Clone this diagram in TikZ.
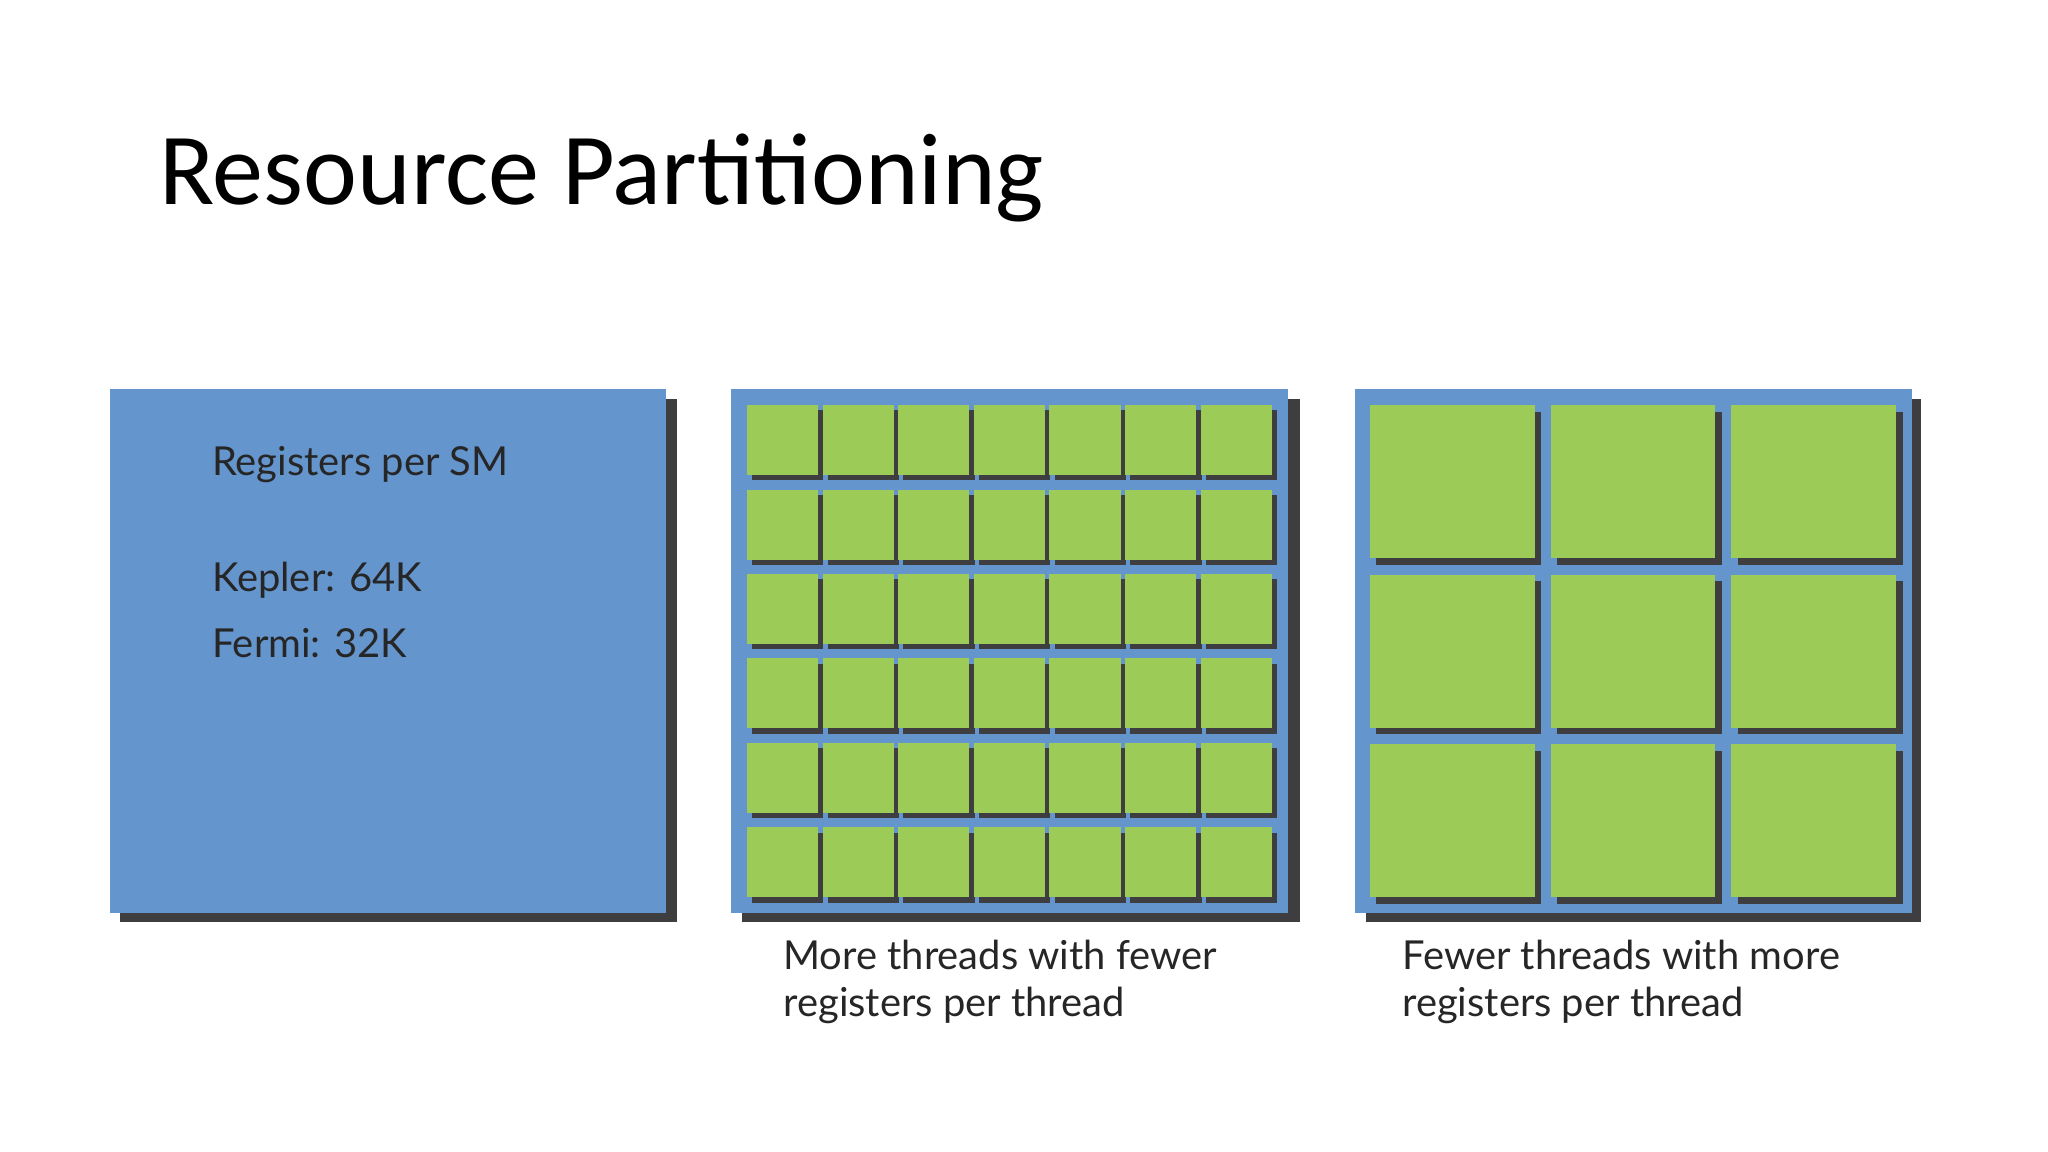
\documentclass[tikz,border=0pt]{standalone}
\usepackage{fontspec}
\setmainfont{Carlito}
\newfontfamily\labelfont{Lato}
\usetikzlibrary{positioning}
\definecolor{smblue}{HTML}{6495CD}
\definecolor{cellgreen}{HTML}{9CCB57}
\definecolor{shade}{HTML}{3E3E40}
\tikzset{smbox/.style={fill=smblue, draw=none},
         smshade/.style={fill=shade, draw=none},
         cell/.style={fill=cellgreen, draw=none},
         caption/.style={font=\labelfont\fontsize{8.6pt}{10pt}\selectfont, align=left, anchor=north west, inner sep=0pt, text=black!85}}

\begin{document}
\begin{tikzpicture}[x=0.01cm, y=-0.01cm]
  \useasboundingbox[fill=white] (0,0) rectangle (1552,873);
  \node[anchor=base west, inner sep=0pt, font=\fontsize{22pt}{26pt}\selectfont\addfontfeatures{FakeBold=0}] (title) at (120,155) {Resource Partitioning};

  % register file
  \fill[smshade] (91,302) rectangle (513,699);
  \fill[smbox] (83,295) rectangle (505,692);
  \node[caption, anchor=west] (regs) at (160,352) {Registers per SM};
  \node[caption, anchor=west] (kepler) at (160,440) {Kepler: 64K};
  \node[caption, anchor=west] (fermi) at (160,487) {Fermi: 32K};

  % many small threads
  \fill[smshade] (562,302) rectangle (985,699);
  \fill[smbox] (554,295) rectangle (976,692);
  \foreach \c in {0,...,6}
    \foreach \r in {0,...,5} {
      \fill[smshade] (566+57.3*\c+4,307+64*\r+4) rectangle ++(54,53);
      \fill[cell] (566+57.3*\c,307+64*\r) rectangle ++(54,53);
    }
  \node[caption] (capmany) at (593,712) {More threads with fewer\\registers per thread};

  % few big threads
  \fill[smshade] (1035,302) rectangle (1456,699);
  \fill[smbox] (1027,295) rectangle (1449,692);
  \foreach \c in {0,...,2}
    \foreach \r in {0,...,2} {
      \fill[smshade] (1038+137*\c+5,307+128.5*\r+5) rectangle ++(125,116);
      \fill[cell] (1038+137*\c,307+128.5*\r) rectangle ++(125,116);
    }
  \node[caption] (capfew) at (1062,712) {Fewer threads with more\\registers per thread};
\end{tikzpicture}
\end{document}
